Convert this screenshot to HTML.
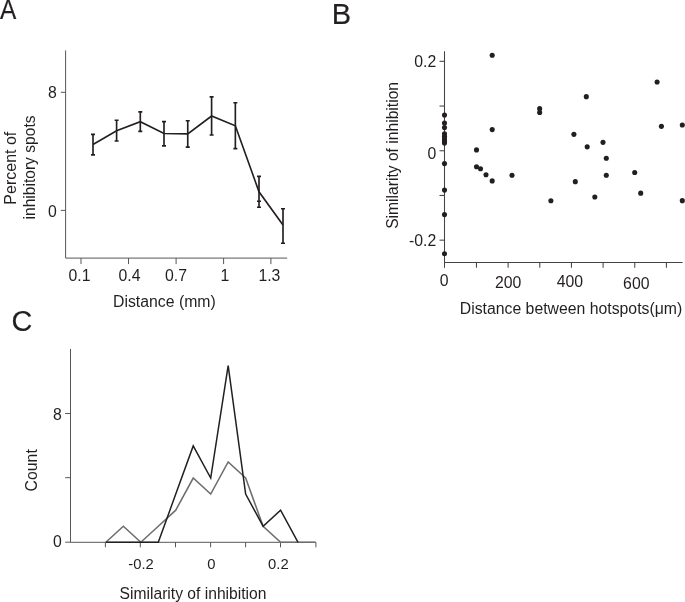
<!DOCTYPE html>
<html lang="en">
<head>
<meta charset="utf-8">
<title>Figure</title>
<style>
html,body{margin:0;padding:0;background:#fff;}
svg{display:block;}
text{font-family:"Liberation Sans",sans-serif;fill:#231f20;}
.t{font-size:15.8px;}
.p{font-size:29px;stroke:#231f20;stroke-width:0.2;}
.ax{stroke:#4e4e50;stroke-width:0.95;fill:none;}
.axb{stroke:#434345;stroke-width:1.05;fill:none;}
.ln{stroke:#231f20;stroke-width:1.65;fill:none;stroke-linejoin:miter;}
.eb{stroke:#231f20;stroke-width:1.65;fill:none;}
.c1{stroke:#231f20;stroke-width:1.5;fill:none;}
.c2{stroke:#6d6e71;stroke-width:1.55;fill:none;}
circle{fill:#231f20;}
</style>
</head>
<body>
<svg width="685" height="602" viewBox="0 0 685 602">
<rect width="685" height="602" fill="#fff"/>
<!-- Panel A -->
<text class="p" x="0.00" y="19.15" text-anchor="start" style="font-size:27.5px" textLength="16.3" lengthAdjust="spacingAndGlyphs">A</text>
<path class="ax" d="M65.60 50.40V258.10H287.20"/>
<line class="ax" x1="60.80" y1="92.30" x2="65.60" y2="92.30"/>
<line class="ax" x1="60.80" y1="210.40" x2="65.60" y2="210.40"/>
<line class="ax" x1="81.00" y1="258.10" x2="81.00" y2="264.10"/>
<line class="ax" x1="128.50" y1="258.10" x2="128.50" y2="264.10"/>
<line class="ax" x1="176.10" y1="258.10" x2="176.10" y2="264.10"/>
<line class="ax" x1="223.60" y1="258.10" x2="223.60" y2="264.10"/>
<line class="ax" x1="270.90" y1="258.10" x2="270.90" y2="264.10"/>
<text class="t" x="56.80" y="97.80" text-anchor="end">8</text>
<text class="t" x="56.80" y="216.50" text-anchor="end">0</text>
<text class="t" x="79.50" y="280.50" text-anchor="middle">0.1</text>
<text class="t" x="129.50" y="280.50" text-anchor="middle">0.4</text>
<text class="t" x="176.00" y="280.50" text-anchor="middle">0.7</text>
<text class="t" x="224.80" y="280.50" text-anchor="middle">1</text>
<text class="t" x="269.40" y="280.50" text-anchor="middle">1.3</text>
<text class="t" x="16.40" y="168.20" text-anchor="middle" transform="rotate(-90 16.40 168.20)" style="font-size:16px">Percent of</text>
<text class="t" x="35.00" y="167.50" text-anchor="middle" transform="rotate(-90 35.00 167.50)" style="font-size:15.6px">inhibitory spots</text>
<text class="t" x="164.40" y="307.40" text-anchor="middle">Distance (mm)</text>
<polyline class="ln" points="93.00,144.50 116.60,130.80 140.30,121.70 164.00,133.50 187.75,133.80 211.60,116.00 235.35,125.80 259.00,191.80 283.00,225.00"/>
<path class="eb" d="M93.00 134.40V154.90M91.00 134.40h4M91.00 154.90h4M116.60 120.20V141.00M114.60 120.20h4M114.60 141.00h4M140.30 111.80V131.40M138.30 111.80h4M138.30 131.40h4M164.00 121.60V145.90M162.00 121.60h4M162.00 145.90h4M187.75 120.70V147.10M185.75 120.70h4M185.75 147.10h4M211.60 96.90V135.00M209.60 96.90h4M209.60 135.00h4M235.35 102.70V148.60M233.35 102.70h4M233.35 148.60h4M259.00 176.40V207.20M257.00 176.40h4M257.00 207.20h4M283.00 208.70V243.20M281.00 208.70h4M281.00 243.20h4M257 201.2h4"/>
<!-- Panel B -->
<text class="p" x="331.80" y="24.00" text-anchor="start">B</text>
<path class="axb" d="M444.50 51.20V262.50H682.60"/>
<line class="axb" x1="439.50" y1="61.30" x2="444.50" y2="61.30"/>
<line class="axb" x1="439.50" y1="106.05" x2="444.50" y2="106.05"/>
<line class="axb" x1="439.50" y1="150.75" x2="444.50" y2="150.75"/>
<line class="axb" x1="439.50" y1="195.45" x2="444.50" y2="195.45"/>
<line class="axb" x1="439.50" y1="240.15" x2="444.50" y2="240.15"/>
<line class="axb" x1="476.46" y1="262.50" x2="476.46" y2="267.80"/>
<line class="axb" x1="508.12" y1="262.50" x2="508.12" y2="267.80"/>
<line class="axb" x1="539.78" y1="262.50" x2="539.78" y2="267.80"/>
<line class="axb" x1="571.44" y1="262.50" x2="571.44" y2="267.80"/>
<line class="axb" x1="603.10" y1="262.50" x2="603.10" y2="267.80"/>
<line class="axb" x1="634.76" y1="262.50" x2="634.76" y2="267.80"/>
<line class="axb" x1="666.42" y1="262.50" x2="666.42" y2="267.80"/>
<line class="axb" x1="444.50" y1="262.50" x2="444.50" y2="267.80"/>
<text class="t" x="436.20" y="67.40" text-anchor="end">0.2</text>
<text class="t" x="436.20" y="158.70" text-anchor="end">0</text>
<text class="t" x="436.20" y="246.20" text-anchor="end">-0.2</text>
<text class="t" x="444.20" y="285.80" text-anchor="middle">0</text>
<text class="t" x="508.20" y="287.70" text-anchor="middle">200</text>
<text class="t" x="569.90" y="286.50" text-anchor="middle">400</text>
<text class="t" x="636.30" y="288.80" text-anchor="middle">600</text>
<text class="t" x="398.00" y="155.40" text-anchor="middle" transform="rotate(-90 398.00 155.40)" style="font-size:15.65px">Similarity of inhibition</text>
<text class="t" x="571.00" y="313.60" text-anchor="middle">Distance between hotspots(μm)</text>
<circle cx="492.20" cy="55.30" r="2.55"/>
<circle cx="539.65" cy="108.65" r="2.55"/>
<circle cx="539.65" cy="112.55" r="2.55"/>
<circle cx="492.20" cy="129.60" r="2.55"/>
<circle cx="476.50" cy="149.90" r="2.55"/>
<circle cx="476.50" cy="166.70" r="2.55"/>
<circle cx="480.50" cy="168.70" r="2.55"/>
<circle cx="486.00" cy="174.70" r="2.55"/>
<circle cx="492.20" cy="180.90" r="2.55"/>
<circle cx="512.00" cy="175.30" r="2.55"/>
<circle cx="550.90" cy="200.75" r="2.55"/>
<circle cx="586.30" cy="96.65" r="2.55"/>
<circle cx="657.10" cy="81.95" r="2.55"/>
<circle cx="573.90" cy="134.35" r="2.55"/>
<circle cx="587.20" cy="146.85" r="2.55"/>
<circle cx="603.00" cy="142.35" r="2.55"/>
<circle cx="606.30" cy="158.25" r="2.55"/>
<circle cx="606.30" cy="175.25" r="2.55"/>
<circle cx="575.30" cy="181.65" r="2.55"/>
<circle cx="634.70" cy="172.45" r="2.55"/>
<circle cx="661.40" cy="126.35" r="2.55"/>
<circle cx="682.30" cy="125.05" r="2.55"/>
<circle cx="594.80" cy="196.95" r="2.55"/>
<circle cx="640.70" cy="193.15" r="2.55"/>
<circle cx="682.30" cy="200.65" r="2.55"/>
<circle cx="444.50" cy="115.10" r="2.55"/>
<circle cx="444.50" cy="123.10" r="2.55"/>
<circle cx="444.50" cy="127.60" r="2.55"/>
<circle cx="444.50" cy="133.80" r="2.55"/>
<circle cx="444.50" cy="136.30" r="2.55"/>
<circle cx="444.50" cy="138.80" r="2.55"/>
<circle cx="444.50" cy="140.90" r="2.55"/>
<circle cx="444.50" cy="142.90" r="2.55"/>
<circle cx="444.50" cy="163.60" r="2.55"/>
<circle cx="444.50" cy="190.10" r="2.55"/>
<circle cx="444.50" cy="214.60" r="2.55"/>
<circle cx="444.50" cy="253.80" r="2.55"/>
<!-- Panel C -->
<text class="p" x="11.40" y="331.00" text-anchor="start" style="font-size:30px" textLength="20.8" lengthAdjust="spacingAndGlyphs">C</text>
<path class="ax" d="M70.50 348.90V542.30H315.90"/>
<line class="ax" x1="65.20" y1="413.50" x2="70.50" y2="413.50"/>
<line class="ax" x1="65.20" y1="477.70" x2="70.50" y2="477.70"/>
<line class="ax" x1="65.20" y1="542.20" x2="70.50" y2="542.20"/>
<line class="ax" x1="105.40" y1="542.30" x2="105.40" y2="547.30"/>
<line class="ax" x1="140.30" y1="542.30" x2="140.30" y2="547.30"/>
<line class="ax" x1="175.50" y1="542.30" x2="175.50" y2="547.30"/>
<line class="ax" x1="210.60" y1="542.30" x2="210.60" y2="547.30"/>
<line class="ax" x1="245.60" y1="542.30" x2="245.60" y2="547.30"/>
<line class="ax" x1="280.50" y1="542.30" x2="280.50" y2="547.30"/>
<line class="ax" x1="315.90" y1="542.30" x2="315.90" y2="547.30"/>
<text class="t" x="61.80" y="420.20" text-anchor="end">8</text>
<text class="t" x="61.80" y="546.50" text-anchor="end">0</text>
<text class="t" x="141.10" y="569.30" text-anchor="middle" style="font-size:14.8px">-0.2</text>
<text class="t" x="211.30" y="569.30" text-anchor="middle" style="font-size:14.8px">0</text>
<text class="t" x="278.40" y="569.30" text-anchor="middle" style="font-size:14.8px">0.2</text>
<text class="t" x="37.00" y="470.30" text-anchor="middle" transform="rotate(-90 37.00 470.30)">Count</text>
<text class="t" x="193.00" y="598.60" text-anchor="middle" style="font-size:15.65px">Similarity of inhibition</text>
<polyline class="c2" points="105.88,542.30 123.35,526.23 140.82,542.30 158.29,526.23 175.76,510.16 193.23,478.02 210.70,494.09 228.17,461.95 245.64,478.02 263.11,526.23 280.58,542.30 298.05,542.30 315.52,542.30"/>
<polyline class="c1" points="105.88,542.30 123.35,542.30 140.82,542.30 158.29,542.30 175.76,494.09 193.23,445.88 210.70,478.02 228.17,365.53 245.64,494.09 263.11,526.23 280.58,510.16 298.05,542.30"/>
</svg>
</body>
</html>
